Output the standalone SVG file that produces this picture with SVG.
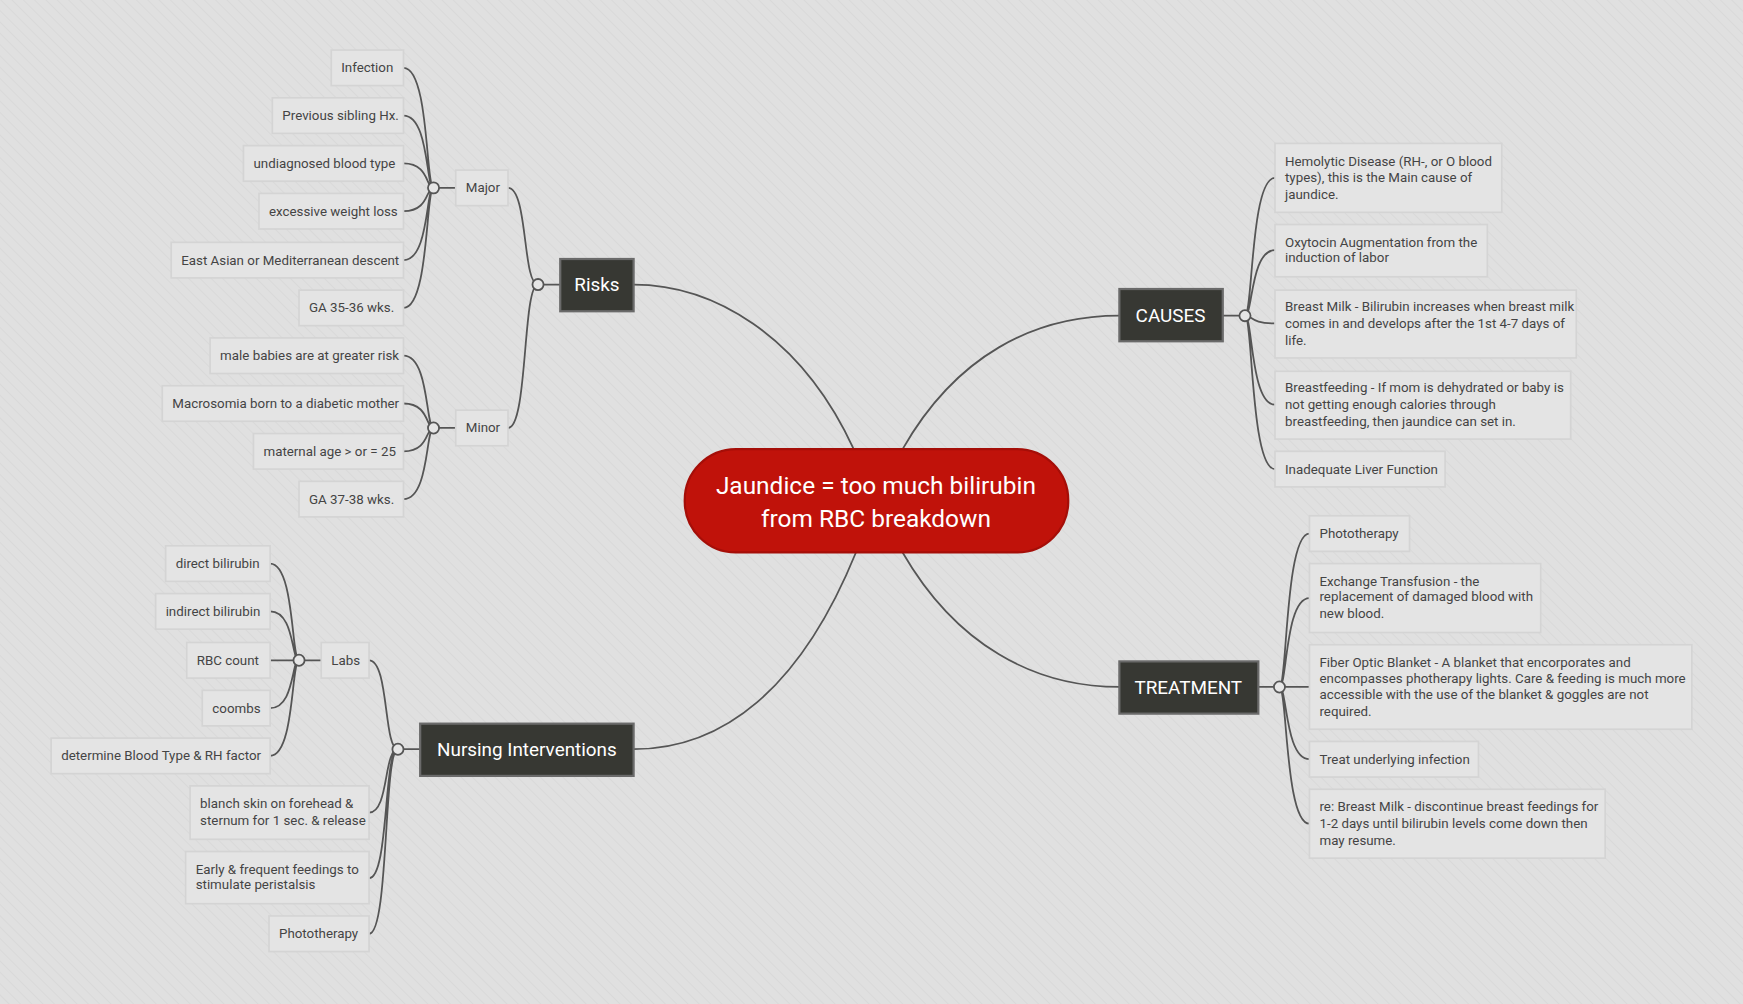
<svg xmlns="http://www.w3.org/2000/svg" width="1743" height="1004" viewBox="0 0 1743 1004">
<defs>
<pattern id="hatch" width="8" height="8" patternUnits="userSpaceOnUse" patternTransform="rotate(-45)">
<rect width="8" height="8" fill="#e0e0e0"/><line x1="0" y1="0" x2="0" y2="8" stroke="#d9d9d9" stroke-width="2"/>
</pattern>
<style>
.c{fill:none;stroke:#555;stroke-width:1.6}
.j{fill:#e6e6e6;stroke:#555;stroke-width:1.6}
.b{fill:#e4e4e4;stroke:#d4d4d4;stroke-width:1.5}
.t{font-family:Roboto,"Liberation Sans",sans-serif;font-size:12px;fill:#444}
.d{fill:#373833;stroke:#6a6a6a;stroke-width:2}
.dt{font-family:Roboto,"Liberation Sans",sans-serif;font-size:17px;fill:#fff;text-anchor:middle}
</style>
</defs>
<rect width="1743" height="1004" fill="url(#hatch)"/>
<g transform="scale(1.1116)">
<g id="connectors">
<path class="c" d="M768 404 C720 300 640 256 570 256"/>
<path class="c" d="M812 404 C860 320 930 284 1007 284"/>
<path class="c" d="M812 497 C860 580 930 618 1007 618"/>
<path class="c" d="M770 497 C720 620 650 674 570 674"/>
<path class="c" d="M504 256 H489 M1100 284 H1115 M1132 618 H1146 M378 674 H363 M410 169 H395 M410 385 H395 M289 594 H274"/>
<path class="c" d="M484 256 C470 256 475 169 457 169 M484 256 C470 256 475 385 457 385"/>
<path class="c" d="M390 169 C383 169 386 61 363 61 M390 169 C383 169 386 104 363 104 M390 169 C383 169 386 147 363 147 M390 169 C383 169 386 190 363 190 M390 169 C383 169 386 234 363 234 M390 169 C383 169 386 277 363 277"/>
<path class="c" d="M390 385 C383 385 386 320 363 320 M390 385 C383 385 386 363 363 363 M390 385 C383 385 386 406 363 406 M390 385 C383 385 386 449 363 449"/>
<path class="c" d="M358 674 C345 674 350 594 332 594 M358 674 C345 674 350 731 332 731 M358 674 C345 674 350 790 332 790 M358 674 C345 674 350 840 332 840"/>
<path class="c" d="M269 594 C262 594 265 507 243 507 M269 594 C262 594 265 550 243 550 M269 594 H243 M269 594 C262 594 265 637 243 637 M269 594 C262 594 265 680 243 680"/>
<path class="c" d="M1120 284 C1127 284 1125 160 1147 160 M1120 284 C1127 284 1125 225 1147 225 M1120 284 C1127 284 1125 291 1147 291 M1120 284 C1127 284 1125 364 1147 364 M1120 284 C1127 284 1125 422 1147 422"/>
<path class="c" d="M1151 618 C1158 618 1156 480 1178 480 M1151 618 C1158 618 1156 538 1178 538 M1151 618 H1178 M1151 618 C1158 618 1156 683 1178 683 M1151 618 C1158 618 1156 741 1178 741"/>
<circle class="j" cx="484" cy="256" r="5"/><circle class="j" cx="390" cy="169" r="5"/><circle class="j" cx="390" cy="385" r="5"/>
<circle class="j" cx="358" cy="674" r="5"/><circle class="j" cx="269" cy="594" r="5"/><circle class="j" cx="1120" cy="284" r="5"/><circle class="j" cx="1151" cy="618" r="5"/>
</g>
<g id="center"><rect x="616" y="404" width="345" height="93" rx="46" fill="#c0120a" stroke="#a50e08" stroke-width="2"/>
<text x="788" y="444" font-family="Roboto,'Liberation Sans',sans-serif" font-size="22" fill="#fff" text-anchor="middle">Jaundice = too much bilirubin</text>
<text x="788" y="474" font-family="Roboto,'Liberation Sans',sans-serif" font-size="22" fill="#fff" text-anchor="middle">from RBC breakdown</text></g>
<g id="risks"><rect class="d" x="504" y="233" width="66" height="47"/><text class="dt" x="537" y="262">Risks</text></g>
<g id="causes"><rect class="d" x="1007" y="260" width="93" height="47"/><text class="dt" x="1053" y="290">CAUSES</text></g>
<g id="treatment"><rect class="d" x="1007" y="595" width="125" height="47"/><text class="dt" x="1069" y="624">TREATMENT</text></g>
<g id="nursing"><rect class="d" x="378" y="651" width="192" height="47"/><text class="dt" x="474" y="680">Nursing Interventions</text></g>
<g id="major"><rect class="b" x="410" y="153" width="47" height="32"/><text class="t" x="419" y="173">Major</text></g>
<g id="minor"><rect class="b" x="410" y="369" width="47" height="32"/><text class="t" x="419" y="389">Minor</text></g>
<g id="labs"><rect class="b" x="289" y="578" width="43" height="32"/><text class="t" x="298" y="598">Labs</text></g>
<g id="r1"><rect class="b" x="298" y="45" width="65" height="32"/><text class="t" x="307" y="65">Infection</text></g>
<g id="r2"><rect class="b" x="245" y="88" width="118" height="32"/><text class="t" x="254" y="108">Previous sibling Hx.</text></g>
<g id="r3"><rect class="b" x="219" y="131" width="144" height="32"/><text class="t" x="228" y="151">undiagnosed blood type</text></g>
<g id="r4"><rect class="b" x="233" y="174" width="130" height="32"/><text class="t" x="242" y="194">excessive weight loss</text></g>
<g id="r5"><rect class="b" x="154" y="218" width="209" height="32"/><text class="t" x="163" y="238">East Asian or Mediterranean descent</text></g>
<g id="r6"><rect class="b" x="269" y="261" width="94" height="32"/><text class="t" x="278" y="281">GA 35-36 wks.</text></g>
<g id="m1"><rect class="b" x="189" y="304" width="174" height="32"/><text class="t" x="198" y="324">male babies are at greater risk</text></g>
<g id="m2"><rect class="b" x="146" y="347" width="217" height="32"/><text class="t" x="155" y="367">Macrosomia born to a diabetic mother</text></g>
<g id="m3"><rect class="b" x="228" y="390" width="135" height="32"/><text class="t" x="237" y="410">maternal age &gt; or = 25</text></g>
<g id="m4"><rect class="b" x="269" y="433" width="94" height="32"/><text class="t" x="278" y="453">GA 37-38 wks.</text></g>
<g id="l1"><rect class="b" x="149" y="491" width="94" height="32"/><text class="t" x="158" y="511">direct bilirubin</text></g>
<g id="l2"><rect class="b" x="140" y="534" width="103" height="32"/><text class="t" x="149" y="554">indirect bilirubin</text></g>
<g id="l3"><rect class="b" x="168" y="578" width="75" height="32"/><text class="t" x="177" y="598">RBC count</text></g>
<g id="l4"><rect class="b" x="182" y="621" width="61" height="32"/><text class="t" x="191" y="641">coombs</text></g>
<g id="l5"><rect class="b" x="46" y="664" width="197" height="32"/><text class="t" x="55" y="684">determine Blood Type &amp; RH factor</text></g>
<g id="n1"><rect class="b" x="171" y="707" width="161" height="48"/><text class="t" x="180" y="727">blanch skin on forehead &amp;</text><text class="t" x="180" y="742">sternum for 1 sec. &amp; release</text></g>
<g id="n2"><rect class="b" x="167" y="766" width="165" height="47"/><text class="t" x="176" y="786">Early &amp; frequent feedings to</text><text class="t" x="176" y="800">stimulate peristalsis</text></g>
<g id="n3"><rect class="b" x="242" y="824" width="90" height="32"/><text class="t" x="251" y="844">Phototherapy</text></g>
<g id="c1"><rect class="b" x="1147" y="129" width="204" height="62"/><text class="t" x="1156" y="149">Hemolytic Disease (RH-, or O blood</text><text class="t" x="1156" y="164">types), this is the Main cause of</text><text class="t" x="1156" y="179">jaundice.</text></g>
<g id="c2"><rect class="b" x="1147" y="202" width="191" height="47"/><text class="t" x="1156" y="222">Oxytocin Augmentation from the</text><text class="t" x="1156" y="236">induction of labor</text></g>
<g id="c3"><rect class="b" x="1147" y="261" width="271" height="61"/><text class="t" x="1156" y="280">Breast Milk - Bilirubin increases when breast milk</text><text class="t" x="1156" y="295">comes in and develops after the 1st 4-7 days of</text><text class="t" x="1156" y="310">life.</text></g>
<g id="c4"><rect class="b" x="1147" y="334" width="266" height="61"/><text class="t" x="1156" y="353">Breastfeeding - If mom is dehydrated or baby is</text><text class="t" x="1156" y="368">not getting enough calories through</text><text class="t" x="1156" y="383">breastfeeding, then jaundice can set in.</text></g>
<g id="c5"><rect class="b" x="1147" y="406" width="153" height="32"/><text class="t" x="1156" y="426">Inadequate Liver Function</text></g>
<g id="t1"><rect class="b" x="1178" y="464" width="90" height="32"/><text class="t" x="1187" y="484">Phototherapy</text></g>
<g id="t2"><rect class="b" x="1178" y="507" width="208" height="62"/><text class="t" x="1187" y="527">Exchange Transfusion - the</text><text class="t" x="1187" y="541">replacement of damaged blood with</text><text class="t" x="1187" y="556">new blood.</text></g>
<g id="t3"><rect class="b" x="1178" y="580" width="344" height="76"/><text class="t" x="1187" y="600">Fiber Optic Blanket - A blanket that encorporates and</text><text class="t" x="1187" y="614">encompasses photherapy lights.  Care &amp; feeding is much more</text><text class="t" x="1187" y="629">accessible with the use of the blanket &amp; goggles are not</text><text class="t" x="1187" y="644">required.</text></g>
<g id="t4"><rect class="b" x="1178" y="667" width="152" height="32"/><text class="t" x="1187" y="687">Treat underlying infection</text></g>
<g id="t5"><rect class="b" x="1178" y="710" width="266" height="62"/><text class="t" x="1187" y="730">re: Breast Milk - discontinue breast feedings for</text><text class="t" x="1187" y="745">1-2 days until bilirubin levels come down then</text><text class="t" x="1187" y="760">may resume.</text></g>
</g>
</svg>
